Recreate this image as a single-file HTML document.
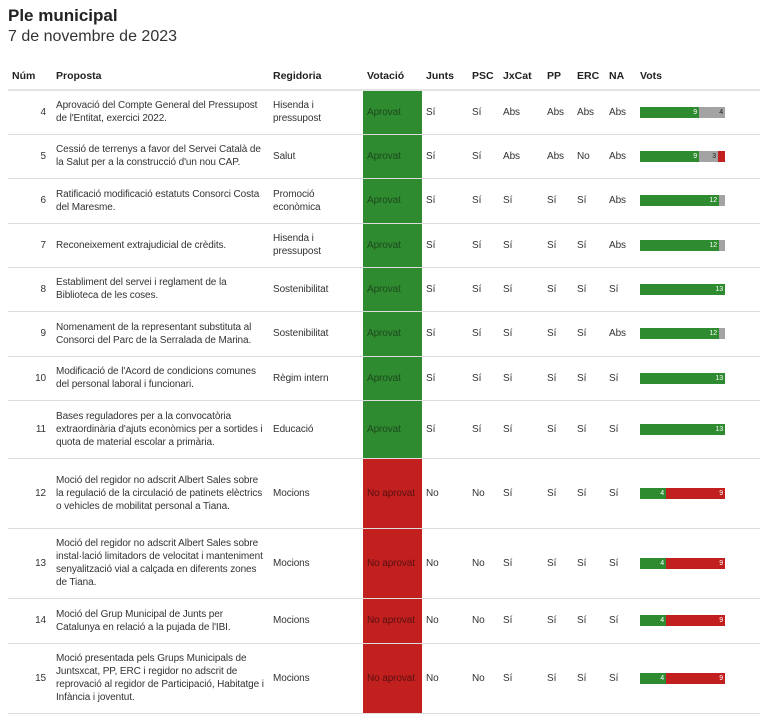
<!DOCTYPE html>
<html><head><meta charset="utf-8"><style>
body{margin:0;background:#fff;font-family:"Liberation Sans",sans-serif;color:#333;width:768px;height:723px;overflow:hidden}
h1{position:absolute;left:8px;top:6px;margin:0;font-size:17px;font-weight:bold;color:#222}
h2{position:absolute;left:8px;top:28px;margin:0;font-size:16px;font-weight:normal;color:#333}
table{position:absolute;left:8px;top:62px;border-collapse:collapse;table-layout:fixed;width:752px;font-size:10px}
th{text-align:left;font-weight:bold;font-size:10.5px;height:27px;padding:0 4px;color:#222;border-bottom:2px solid #e4e4e4}
td{padding:0 4px;border-bottom:1px solid #ddd;line-height:13px;vertical-align:middle;letter-spacing:-0.1px}
td.n{text-align:right;padding-right:6px}
td.g{background:#2f8b30;color:#1c4a1c}
td.r{background:#c21f1f;color:#5a1010}
.bar{display:flex;width:85px;height:11px;font-size:7px;color:#fff;line-height:11px}
.bar span{display:block;text-align:right;padding-right:2px;box-sizing:border-box}
.G{background:#2f8b30}.A{background:#a3a3a3;color:#222!important}.R{background:#c21f1f}
</style></head><body>
<h1>Ple municipal</h1>
<h2>7 de novembre de 2023</h2>
<table>
<colgroup><col style="width:44px"><col style="width:217px"><col style="width:94px"><col style="width:59px"><col style="width:46px"><col style="width:31px"><col style="width:44px"><col style="width:30px"><col style="width:32px"><col style="width:31px"><col style="width:124px"></colgroup>
<tr><th style="padding-left:4px">Núm</th><th>Proposta</th><th>Regidoria</th><th>Votació</th><th>Junts</th><th>PSC</th><th>JxCat</th><th>PP</th><th>ERC</th><th>NA</th><th>Vots</th></tr>
<tr style="height:44px"><td class="n">4</td><td>Aprovació del Compte General del Pressupost de l'Entitat, exercici 2022.</td><td>Hisenda i pressupost</td><td class="g">Aprovat</td><td>Sí</td><td>Sí</td><td>Abs</td><td>Abs</td><td>Abs</td><td>Abs</td><td><div class="bar"><span class="G" style="width:59px">9</span><span class="A" style="width:26px">4</span></div></td></tr>
<tr style="height:44px"><td class="n">5</td><td>Cessió de terrenys a favor del Servei Català de la Salut per a la construcció d'un nou CAP.</td><td>Salut</td><td class="g">Aprovat</td><td>Sí</td><td>Sí</td><td>Abs</td><td>Abs</td><td>No</td><td>Abs</td><td><div class="bar"><span class="G" style="width:59px">9</span><span class="A" style="width:19px">3</span><span class="R" style="width:7px"></span></div></td></tr>
<tr style="height:45px"><td class="n">6</td><td>Ratificació modificació estatuts Consorci Costa del Maresme.</td><td>Promoció econòmica</td><td class="g">Aprovat</td><td>Sí</td><td>Sí</td><td>Sí</td><td>Sí</td><td>Sí</td><td>Abs</td><td><div class="bar"><span class="G" style="width:79px">12</span><span class="A" style="width:6px"></span></div></td></tr>
<tr style="height:44px"><td class="n">7</td><td>Reconeixement extrajudicial de crèdits.</td><td>Hisenda i pressupost</td><td class="g">Aprovat</td><td>Sí</td><td>Sí</td><td>Sí</td><td>Sí</td><td>Sí</td><td>Abs</td><td><div class="bar"><span class="G" style="width:79px">12</span><span class="A" style="width:6px"></span></div></td></tr>
<tr style="height:44px"><td class="n">8</td><td>Establiment del servei i reglament de la Biblioteca de les coses.</td><td>Sostenibilitat</td><td class="g">Aprovat</td><td>Sí</td><td>Sí</td><td>Sí</td><td>Sí</td><td>Sí</td><td>Sí</td><td><div class="bar"><span class="G" style="width:85px">13</span></div></td></tr>
<tr style="height:45px"><td class="n">9</td><td>Nomenament de la representant substituta al Consorci del Parc de la Serralada de Marina.</td><td>Sostenibilitat</td><td class="g">Aprovat</td><td>Sí</td><td>Sí</td><td>Sí</td><td>Sí</td><td>Sí</td><td>Abs</td><td><div class="bar"><span class="G" style="width:79px">12</span><span class="A" style="width:6px"></span></div></td></tr>
<tr style="height:44px"><td class="n">10</td><td>Modificació de l'Acord de condicions comunes del personal laboral i funcionari.</td><td>Règim intern</td><td class="g">Aprovat</td><td>Sí</td><td>Sí</td><td>Sí</td><td>Sí</td><td>Sí</td><td>Sí</td><td><div class="bar"><span class="G" style="width:85px">13</span></div></td></tr>
<tr style="height:58px"><td class="n">11</td><td>Bases reguladores per a la convocatòria extraordinària d'ajuts econòmics per a sortides i quota de material escolar a primària.</td><td>Educació</td><td class="g">Aprovat</td><td>Sí</td><td>Sí</td><td>Sí</td><td>Sí</td><td>Sí</td><td>Sí</td><td><div class="bar"><span class="G" style="width:85px">13</span></div></td></tr>
<tr style="height:70px"><td class="n">12</td><td>Moció del regidor no adscrit Albert Sales sobre la regulació de la circulació de patinets elèctrics o vehicles de mobilitat personal a Tiana.</td><td>Mocions</td><td class="r">No aprovat</td><td>No</td><td>No</td><td>Sí</td><td>Sí</td><td>Sí</td><td>Sí</td><td><div class="bar"><span class="G" style="width:26px">4</span><span class="R" style="width:59px">9</span></div></td></tr>
<tr style="height:70px"><td class="n">13</td><td>Moció del regidor no adscrit Albert Sales sobre instal·lació limitadors de velocitat i manteniment senyalització vial a calçada en diferents zones de Tiana.</td><td>Mocions</td><td class="r">No aprovat</td><td>No</td><td>No</td><td>Sí</td><td>Sí</td><td>Sí</td><td>Sí</td><td><div class="bar"><span class="G" style="width:26px">4</span><span class="R" style="width:59px">9</span></div></td></tr>
<tr style="height:45px"><td class="n">14</td><td>Moció del Grup Municipal de Junts per Catalunya en relació a la pujada de l'IBI.</td><td>Mocions</td><td class="r">No aprovat</td><td>No</td><td>No</td><td>Sí</td><td>Sí</td><td>Sí</td><td>Sí</td><td><div class="bar"><span class="G" style="width:26px">4</span><span class="R" style="width:59px">9</span></div></td></tr>
<tr style="height:70px"><td class="n">15</td><td>Moció presentada pels Grups Municipals de Juntsxcat, PP, ERC i regidor no adscrit de reprovació al regidor de Participació, Habitatge i Infància i joventut.</td><td>Mocions</td><td class="r">No aprovat</td><td>No</td><td>No</td><td>Sí</td><td>Sí</td><td>Sí</td><td>Sí</td><td><div class="bar"><span class="G" style="width:26px">4</span><span class="R" style="width:59px">9</span></div></td></tr>
</table>
</body></html>
